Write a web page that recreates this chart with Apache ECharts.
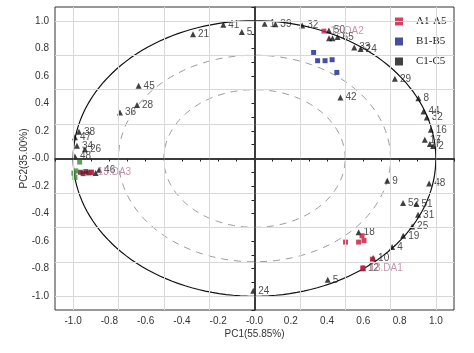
<!DOCTYPE html>
<html>
<head>
<meta charset="utf-8">
<script src="https://cdn.jsdelivr.net/npm/echarts@6/dist/echarts.min.js"></script>
<style>
html, body { margin: 0; padding: 0; background: #fff; }
#my { width: 474px; height: 353px; }
</style>
</head>
<body>
<div id="my"></div>
<script>

// 变量载荷 (三角形) [x, y, 标号]
var varPoints = [
	[-0.172, 0.971, '41'], [-0.339, 0.903, '21'], [-0.07, 0.918, '5'],
	[-0.639, 0.528, '45'], [-0.648, 0.388, '28'], [-0.742, 0.334, '36'],
	[-0.968, 0.194, '38'], [-0.99, 0.155, '47'], [-0.979, 0.092, '34'],
	[-0.935, 0.068, '26'], [-0.99, 0.015, '48'], [-0.857, -0.082, '46'],
	[-0.876, -0.105, ''],
	[0.056, 0.978, '1'], [0.115, 0.975, '39'], [0.263, 0.966, '32'],
	[0.41, 0.93, '50'],
	[0.411, 0.874, ''], [0.43, 0.874, ''], [0.458, 0.882, '65'],
	[0.55, 0.806, '33'], [0.585, 0.795, '24'],
	[0.774, 0.579, '29'], [0.474, 0.443, '42'], [0.904, 0.438, '8'],
	[0.932, 0.341, '44'], [0.95, 0.298, '32'], [0.972, 0.208, '16'],
	[0.939, 0.136, '17'], [0.967, 0.105, '7'], [0.985, 0.09, '2'],
	[0.732, -0.162, '9'], [0.963, -0.182, '48'], [0.819, -0.324, '52'],
	[0.893, -0.331, '51'], [0.902, -0.409, '31'], [0.869, -0.494, '25'],
	[0.82, -0.561, '19'], [0.759, -0.643, '4'], [0.574, -0.535, '18'],
	[0.654, -0.723, '10'], [0.598, -0.796, '12'], [0.404, -0.881, '5'],
	[-0.007, -0.961, '24']
];

// 样品得分
var aPoints = [[0.502, -0.607], [0.574, -0.607], [0.593, -0.561], [0.604, -0.596], [0.65, -0.731], [0.598, -0.796]];
var bPoints = [[0.326, 0.77], [0.348, 0.71], [0.389, 0.71], [0.428, 0.717], [0.454, 0.625]];
var cPoints = [[-0.964, -0.026], [-0.996, -0.106], [-0.99, -0.138], [-0.985, -0.09]];
var darkPoints = [[-0.96, -0.1], [-0.945, -0.11], [-0.93, -0.095], [-0.915, -0.105], [-0.9, -0.1]];

// 标记 DA
var daPoints = [[0.383, 0.925, '13.DA2'], [0.598, -0.796, '13.DA1'], [-0.9, -0.1, '13.DA3']];

// 圆半径 与 网格
var ringRadii = [1, 0.75, 0.5];
var gridSteps = [-1, -0.75, -0.5, -0.25, 0.25, 0.5, 0.75, 1];

var legendNames = ['A1-A5', 'B1-B5', 'C1-C5'];

var myChart = echarts.init(document.getElementById("my"));

function tickText(v) {
	var k = Math.round(v * 10);
	if (k % 2 !== 0) return '';
	return (k <= 0 ? '-' : '') + Math.abs(k / 10).toFixed(1);
}

function axisCfg(name, gap) {
	return {
		type: 'value',
		min: -1.1,
		max: 1.1,
		interval: 0.1,
		name: name,
		nameLocation: 'middle',
		nameGap: gap,
		nameMoveOverlap: false,
		nameTextStyle: { color: '#333', fontSize: 10, fontFamily: 'Liberation Sans' },
		axisLine: { show: true, lineStyle: { color: '#222', width: 1.5 } },
		axisTick: { show: true, length: 3, lineStyle: { color: '#222' } },
		axisLabel: { color: '#333', fontSize: 10, fontFamily: 'Liberation Sans', formatter: tickText, margin: 6 },
		splitLine: { show: false }
	};
}

var gridLines = [];
gridSteps.forEach(function (v) {
	gridLines.push({ xAxis: v });
	gridLines.push({ yAxis: v });
});

var option = {
	animation: false,
	grid: { left: 55, right: 20, top: 7, bottom: 43, show: true, borderColor: '#333', borderWidth: 1 },
	xAxis: axisCfg('PC1(55.85%)', 19),
	yAxis: axisCfg('PC2(35.00%)', 26),
	legend: {
		data: legendNames,
		orient: 'vertical',
		left: 390,
		top: 11,
		icon: 'rect',
		itemWidth: 8,
		itemHeight: 8,
		itemGap: 9,
		textStyle: { fontFamily: 'Liberation Serif', fontSize: 11, color: '#222', padding: [0, 0, 0, 8] }
	},
	series: [
		{
			type: 'scatter',
			data: [],
			silent: true,
			markLine: {
				silent: true,
				symbol: ['none', 'none'],
				label: { show: false },
				lineStyle: { color: '#d8d8d8', width: 1, type: 'solid' },
				data: gridLines
			}
		},
		{
			type: 'scatter',
			data: [],
			silent: true,
			markLine: {
				silent: true,
				symbol: ['none', 'none'],
				label: { show: false },
				lineStyle: { color: '#333', width: 1.5, type: 'solid' },
				data: [{ xAxis: 0 }, { yAxis: 0 }]
			}
		},
		{
			type: 'custom',
			silent: true,
			data: ringRadii.map(function (r) { return [r]; }),
			renderItem: function (params, api) {
				var r = api.value(0);
				var pts = [];
				for (var i = 0; i <= 160; i++) {
					var a = i / 160 * Math.PI * 2;
					pts.push(api.coord([r * Math.cos(a), r * Math.sin(a)]));
				}
				return {
					type: 'polyline',
					shape: { points: pts },
					style: r === 1
						? { stroke: '#111', lineWidth: 1.2, fill: null }
						: { stroke: '#9a9a9a', lineWidth: 1, lineDash: [7, 6], fill: null }
				};
			}
		},
		{
			name: 'vars',
			type: 'scatter',
			symbol: 'triangle',
			symbolSize: 6,
			itemStyle: { color: '#111' },
			data: varPoints,
			labelLayout: { hideOverlap: false },
			label: {
				show: true,
				position: 'right',
				distance: 2,
				fontSize: 10,
				fontFamily: 'Liberation Sans',
				color: '#222',
				formatter: function (p) { return p.data[2]; }
			}
		},
		{
			name: 'dark',
			type: 'scatter',
			symbol: 'rect',
			symbolSize: 5,
			itemStyle: { color: '#6a1526' },
			data: darkPoints
		},
		{
			name: 'A1-A5',
			type: 'scatter',
			symbol: 'rect',
			symbolSize: 5,
			itemStyle: { color: '#c8143a' },
			data: aPoints
		},
		{
			name: 'B1-B5',
			type: 'scatter',
			symbol: 'rect',
			symbolSize: 5,
			itemStyle: { color: '#14238a' },
			data: bPoints
		},
		{
			name: 'C1-C5',
			type: 'scatter',
			symbol: 'rect',
			symbolSize: 5,
			itemStyle: { color: '#111' },
			data: cPoints.map(function (p) {
				return { value: p, itemStyle: { color: '#3d8a3a' } };
			})
		},
		{
			name: 'DA',
			type: 'scatter',
			symbol: 'rect',
			symbolSize: 5,
			itemStyle: { color: '#c4204a' },
			data: daPoints,
			label: {
				show: true,
				position: 'right',
				distance: 4,
				fontSize: 10,
				fontFamily: 'Liberation Sans',
				color: '#b47c98',
				formatter: function (p) { return p.data[2]; }
			}
		}
	]
};

myChart.setOption(option);

</script>
</body>
</html>
